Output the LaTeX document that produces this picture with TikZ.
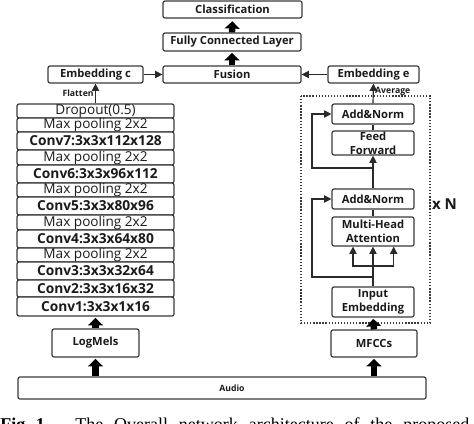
\documentclass[tikz,border=0pt]{standalone}
\usepackage{fontspec}
\setmainfont{Open Sans}
\newfontfamily\capfont{Liberation Serif}
\usetikzlibrary{arrows.meta}
\definecolor{bc}{HTML}{3A3A3A}
\definecolor{ac}{HTML}{2A2A2A}
\definecolor{tc}{HTML}{1A1A1A}
\tikzset{
 box/.style={draw=bc, line width=0.9pt, rounded corners=1.5pt, inner sep=0pt, align=center, fill=white, text=tc},
 convf/.style={font=\fontsize{10.3}{12}\selectfont\bfseries},
 mpf/.style={font=\fontsize{10.2}{12}\selectfont},
 lblf/.style={font=\fontsize{8.4}{10.3}\selectfont\bfseries},
 smallf/.style={font=\fontsize{6.5}{8}\selectfont\bfseries, text=tc, inner sep=1pt},
 conn/.style={draw=ac, line width=0.9pt},
 tarrow/.style={conn, -{Triangle[width=5.5pt,length=5.5pt]}},
 fat/.style={draw=black, line width=4.8pt, -{Triangle[width=11pt,length=5.5pt]}, shorten >=1pt},
 lstack/.style={box, minimum width=117.75pt},
}
\begin{document}
\begin{tikzpicture}[x=0.75pt,y=-0.75pt]
\useasboundingbox (0,0) rectangle (474,424);
\clip (0,0) rectangle (474,424);

% encoder dotted block
\draw[draw=bc, line width=1pt, dash pattern=on 1pt off 1.3pt] (301,96) rectangle (430,323);
\node[font=\fontsize{11.3}{13}\selectfont\bfseries, text=tc, inner sep=0pt] (xn) at (444.5,204) {x N};

% top
\node[box,minimum width=104.25pt,minimum height=12.75pt,lblf] (cls) at (232.5,9.5) {Classification};
\node[box,minimum width=103.5pt,minimum height=13.5pt,lblf] (fc) at (232,42) {Fully Connected Layer};
\node[box,minimum width=103.5pt,minimum height=12.75pt,lblf] (fus) at (232,74.5) {Fusion};
\node[box,minimum width=71.25pt,minimum height=12.75pt,lblf] (embc) at (95.5,74.5) {Embedding c};
\node[box,minimum width=68.25pt,minimum height=12.75pt,lblf] (embe) at (373.5,74.5) {Embedding e};

% left stack
\node[lstack,minimum height=10.5pt,mpf] (drop) at (95.5,111) {Dropout(0.5)};
\node[lstack,minimum height=10.5pt,mpf] (mp7) at (95.5,125) {Max pooling 2x2};
\node[lstack,minimum height=13.5pt,convf] (c7) at (95.5,141) {Conv7:3x3x112x128};
\node[lstack,minimum height=11.25pt,mpf] (mp6) at (95.5,157.5) {Max pooling 2x2};
\node[lstack,minimum height=13.5pt,convf] (c6) at (95.5,174) {Conv6:3x3x96x112};
\node[lstack,minimum height=10.5pt,mpf] (mp5) at (95.5,190) {Max pooling 2x2};
\node[lstack,minimum height=13.5pt,convf] (c5) at (95.5,206) {Conv5:3x3x80x96};
\node[lstack,minimum height=11.25pt,mpf] (mp4) at (95.5,222.5) {Max pooling 2x2};
\node[lstack,minimum height=13.5pt,convf] (c4) at (95.5,239) {Conv4:3x3x64x80};
\node[lstack,minimum height=10.5pt,mpf] (mp3) at (95.5,255) {Max pooling 2x2};
\node[lstack,minimum height=13.5pt,convf] (c3) at (95.5,271) {Conv3:3x3x32x64};
\node[lstack,minimum height=12.75pt,convf] (c2) at (95.5,288.5) {Conv2:3x3x16x32};
\node[lstack,minimum height=14.25pt,convf] (c1) at (95.5,306.5) {Conv1:3x3x1x16};

% right column
\node[box,minimum width=61.5pt,minimum height=15pt,lblf] (an1) at (373,114) {Add\&Norm};
\node[box,minimum width=61.5pt,minimum height=18pt,lblf] (ff) at (373,143) {Feed\\Forward};
\node[box,minimum width=61.5pt,minimum height=15pt,lblf] (an2) at (373,199) {Add\&Norm};
\node[box,minimum width=61.5pt,minimum height=21.75pt,lblf] (mha) at (373,231.5) {Multi-Head\\Attention};
\node[box,minimum width=61.5pt,minimum height=22.5pt,lblf] (ie) at (373,302) {Input\\Embedding};
\node[box,minimum width=64.5pt,minimum height=20.25pt,lblf] (mfcc) at (374,343.5) {MFCCs};
\node[box,minimum width=65.25pt,minimum height=21pt,lblf] (logm) at (95.5,343) {LogMels};
\node[box,minimum width=306pt,minimum height=16.5pt,font=\fontsize{6.5}{8}\selectfont\bfseries] (audio) at (222,388) {\hspace*{15pt}Audio};

% connectors top
\draw[fat, shorten >=2pt] (fc.north) -- (cls.south);
\draw[fat] (fus.north) -- (fc.south);
\draw[tarrow] (embc.east) -- (fus.west);
\draw[tarrow] (embe.west) -- (fus.east);
\draw[tarrow] (drop.north) -- node[left, smallf] {Flatten} (embc.south);
\draw[tarrow] (an1.north) -- node[right, smallf, pos=0.6] {Average} (embe.south);

% encoder internals
\draw[conn] (an1.south) -- (ff.north);
\draw[tarrow] (an2.north) -- (ff.south);
\coordinate (r1) at (373,168);
\draw[tarrow] (r1) -- ++(-61,0) |- (an1.west);
\draw[conn] (an2.south) -- (mha.north);
\draw[tarrow] (ie.north) -- (mha.south);
\coordinate (br) at (373,266);
\draw[tarrow] (br) -| ([xshift=-15pt]mha.south);
\draw[tarrow] (br) -| ([xshift=15.5pt]mha.south);
\coordinate (r2) at (373,277);
\draw[tarrow] (r2) -- ++(-61,0) |- (an2.west);

% bottom fat arrows
\draw[fat] (mfcc.north) -- (ie.south);
\draw[fat] (audio.north -| mfcc.north) -- (mfcc.south);
\draw[fat] (audio.north -| logm.north) -- (logm.south);
\draw[fat] (logm.north) -- (c1.south);

% caption (cut off)
\node[anchor=base west, inner sep=0pt, font=\capfont\fontsize{13.5}{16}\selectfont\bfseries] (figlab) at (0,430) {Fig. 1.};
\node[anchor=base west, inner sep=0pt, font=\capfont\fontsize{13.5}{16}\selectfont] (captxt) at (75,430) {\makebox[295.5pt][s]{The Overall network architecture of the proposed}};
\end{tikzpicture}
\end{document}
